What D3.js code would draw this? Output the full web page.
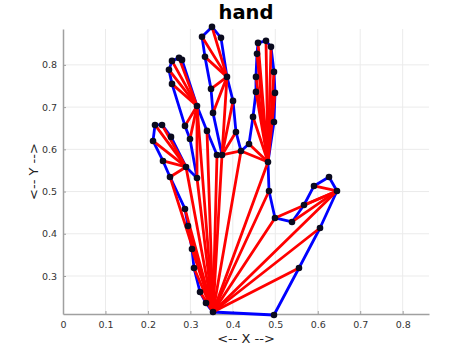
<!DOCTYPE html>
<html><head><meta charset="utf-8">
<script src="https://cdn.jsdelivr.net/npm/d3@7"></script>
<style>body{margin:0;background:#fff}svg{display:block}</style></head>
<body>
<script>
// polygon vertices (data coordinates), in outline order
const xs = [0.3533,0.4969,0.5558,0.6053,0.6453,0.6265,0.5911,0.5676,0.5393,0.4993,
            0.4852,0.4828,0.4969,0.4993,0.4969,0.4899,0.4781,0.4593,0.4569,0.4545,
            0.4545,0.4475,0.4381,0.4192,0.4074,0.4004,0.3862,0.3721,0.3509,0.3274,
            0.3344,0.3486,0.3533,0.3745,0.3627,0.3391,0.3156,0.2803,0.2732,0.2567,
            0.2496,0.2567,0.2873,0.2991,0.3156,0.2897,0.2544,0.2332,0.2167,0.2120,
            0.2355,0.2520,0.2873,0.2944,0.3038,0.3085,0.3227,0.3368];
const ys = [0.2147,0.2076,0.3190,0.4137,0.5014,0.5346,0.5133,0.4682,0.4280,0.4374,
            0.5014,0.5701,0.6649,0.7336,0.7834,0.8427,0.8569,0.8521,0.8261,0.7716,
            0.7360,0.6768,0.6128,0.5962,0.6412,0.7147,0.7716,0.8640,0.8900,0.8664,
            0.8190,0.7431,0.6863,0.5867,0.5867,0.6436,0.7028,0.8118,0.8166,0.8095,
            0.7882,0.7550,0.6555,0.6246,0.5322,0.5583,0.6294,0.6578,0.6578,0.6199,
            0.5725,0.5346,0.4588,0.4185,0.3640,0.3190,0.2621,0.2360];
// triangulation diagonals (pairs of vertex indices)
const diagFrom = [45,45,45,45,45, 36,36,36,36,36,36,36, 26,26,26,26,26,26,25,24,23,
                  11,11,11,11,11,11,11,11,11,11,11, 4,4,4,4,
                  0,0,0,0,0,0,0,0,0,0,0,0,0,0,0,0,0,0,0];
const diagTo   = [47,48,49,50,51, 38,39,40,41,42,43,44, 28,29,30,31,32,33,33,33,33,
                  13,14,15,16,17,18,19,20,21,22,23, 6,7,8,9,
                  2,3,4,9,10,11,23,33,34,35,36,44,45,51,52,53,54,55,56];
const xTicks = [0,0.1,0.2,0.3,0.4,0.5,0.6,0.7,0.8];
const yTicks = [0.3,0.4,0.5,0.6,0.7,0.8];
const xLabels = ["0","0.1","0.2","0.3","0.4","0.5","0.6","0.7","0.8"];
const yLabels = ["0.3","0.4","0.5","0.6","0.7","0.8"];

const W = 474, H = 355;
const L = 63, R = 429, T = 29, B = 314;
const x = d3.scaleLinear().domain([0, 0.862]).range([L, R]);
const y = d3.scaleLinear().domain([0.21, 0.885]).range([B, T]);

const svg = d3.select("body").append("svg").attr("width", W).attr("height", H);

// grid
svg.append("g").selectAll("line").data(xTicks.filter(d => d > 0)).join("line")
  .attr("x1", d => x(d)).attr("x2", d => x(d)).attr("y1", B).attr("y2", T)
  .attr("stroke", "#ebebeb").attr("stroke-width", 1);
svg.append("g").selectAll("line").data(yTicks).join("line")
  .attr("y1", d => y(d)).attr("y2", d => y(d)).attr("x1", L).attr("x2", R)
  .attr("stroke", "#ebebeb").attr("stroke-width", 1);

// axes
const xAxis = d3.axisBottom(x).tickValues(xTicks).tickFormat((d, i) => xLabels[i]).tickSizeInner(-3).tickSizeOuter(0).tickPadding(7);
const yAxis = d3.axisLeft(y).tickValues(yTicks).tickFormat((d, i) => yLabels[i]).tickSizeInner(-3).tickSizeOuter(0).tickPadding(6);
const gx = svg.append("g").attr("transform", `translate(0,${B})`).call(xAxis);
const gy = svg.append("g").attr("transform", `translate(${L},0)`).call(yAxis);
[gx, gy].forEach(g => {
  g.select(".domain").attr("stroke", "#a0a0a0").attr("stroke-width", 1.5);
  g.selectAll(".tick line").attr("stroke", "#a0a0a0");
  g.selectAll(".tick text").attr("fill", "#333").style("font-family", "DejaVu Sans").style("font-size", "9.5px");
});

const pts = xs.map((v, i) => [x(v), y(ys[i])]);

// outline
svg.append("path")
  .attr("d", d3.line()(pts) + "Z")
  .attr("fill", "none").attr("stroke", "#0000ff").attr("stroke-width", 2.8).attr("stroke-linejoin", "round");

// diagonals
svg.append("g").selectAll("line").data(diagFrom.map((a, i) => [a, diagTo[i]])).join("line")
  .attr("x1", d => pts[d[0]][0]).attr("y1", d => pts[d[0]][1])
  .attr("x2", d => pts[d[1]][0]).attr("y2", d => pts[d[1]][1])
  .attr("stroke", "#ff0000").attr("stroke-width", 2.8).attr("stroke-linecap", "round");

// vertices
svg.append("g").selectAll("circle").data(pts).join("circle")
  .attr("cx", d => d[0]).attr("cy", d => d[1]).attr("r", 3.3)
  .attr("fill", "#0a0a1e");

// title and labels
svg.append("text").attr("x", (L + R) / 2).attr("y", 19).attr("text-anchor", "middle")
  .style("font-family", "DejaVu Sans").style("font-weight", "bold").style("font-size", "19.5px").text("hand");
svg.append("text").attr("x", (L + R) / 2).attr("y", 343).attr("text-anchor", "middle")
  .style("font-family", "DejaVu Sans").style("font-size", "13px").attr("fill", "#222").text("<-- X -->");
svg.append("text").attr("transform", `translate(38,${(T + B) / 2}) rotate(-90)`).attr("text-anchor", "middle")
  .style("font-family", "DejaVu Sans").style("font-size", "13px").attr("fill", "#222").text("<-- Y -->");
</script>
</body></html>
